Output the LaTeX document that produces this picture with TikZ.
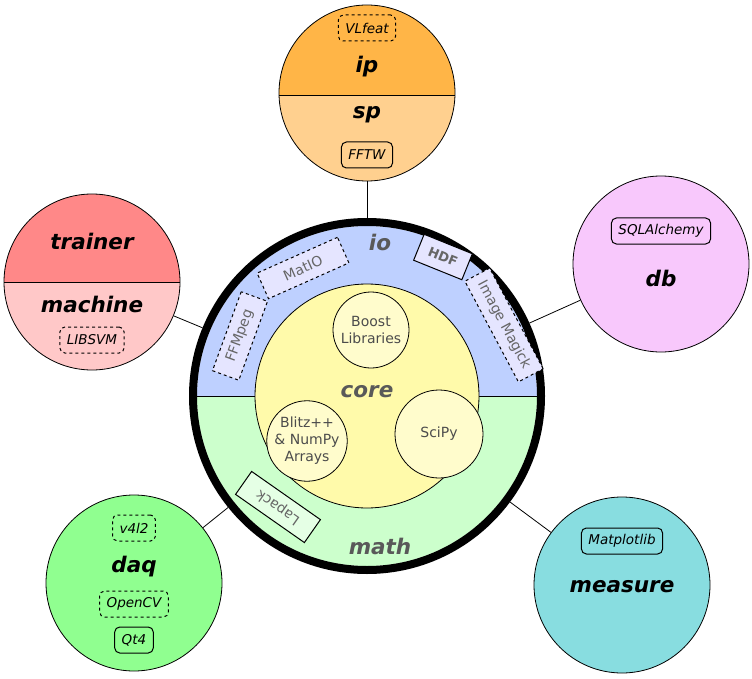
\documentclass[tikz,border=0pt]{standalone}
\usepackage{fontspec}
\setmainfont{DejaVu Sans}
\begin{document}
\begin{tikzpicture}[x=1pt,y=-1pt,
  sat/.style={circle,draw,line width=0.8pt,minimum size=176pt,inner sep=0},
  lab/.style={font=\bfseries\itshape\fontsize{21.5}{21.5}\selectfont},
  lib/.style={draw,rounded corners=5pt,line width=1pt,font=\itshape\fontsize{13.5}{13.5}\selectfont,inner xsep=7pt,minimum height=26pt},
  dlib/.style={lib,dashed},
  inb/.style={draw,line width=1pt,font=\fontsize{14}{14}\selectfont,text=black!60,minimum height=28pt,inner sep=3pt},
  sub/.style={circle,draw,fill=yellow!20,line width=0.8pt,inner sep=0,align=center,font=\fontsize{14}{17}\selectfont,text=black!70}]
\useasboundingbox (0,0) rectangle (752,679);
\coordinate (c) at (367,396);
\node[sat,draw=none] (ipsp) at (367,93) {};
\node[sat,draw=none] (tm) at (92,282) {};
\node[sat,draw=none] (db) at (661,264) {};
\node[sat,draw=none] (daq) at (134,583) {};
\node[sat,draw=none] (me) at (622,585) {};
\foreach \n in {ipsp,tm,db,daq,me} \draw[line width=0.8pt] (c) -- (\n);
% main circle
\fill[white] (c) circle (178);
\fill[fill={rgb,255:red,204;green,255;blue,204}] (197,396) arc[start angle=180,end angle=0,radius=170] -- cycle;
\fill[fill={rgb,255:red,190;green,208;blue,255}] (197,396) arc[start angle=180,end angle=360,radius=170] -- cycle;
\draw[line width=1pt] (197,396) -- (537,396);
\draw[line width=8pt] (c) circle (174);
\node[circle,draw,line width=0.8pt,fill={rgb,255:red,255;green,250;blue,170},minimum size=224pt] (core) at (c) {};
\node[lab,text=black!65] (coret) at (367,392) {core};
\node[lab,text=black!65] (iot) at (380,242) {io};
\node[lab,text=black!65] (matht) at (380,546) {math};
\node[sub,minimum size=76pt] (boost) at (371,330) {Boost\\Libraries};
\node[sub,minimum size=78pt] (blitz) at (307,441) {Blitz++\\\& NumPy\\Arrays};
\node[sub,minimum size=88pt] (scipy) at (439,434) {SciPy};
\node[inb,dashed,fill=blue!10,rotate=24,minimum width=88pt] (matio) at (303,268) {MatIO};
\node[inb,dashed,fill=blue!10,rotate=70,minimum width=84pt] (ffmpeg) at (240,336) {FFMpeg};
\node[inb,fill=blue!10,rotate=-22,font=\bfseries\fontsize{13}{13}\selectfont,minimum width=52pt] (hdf) at (443,257) {HDF};
\node[inb,dashed,fill=blue!10,rotate=-62,minimum width=114pt] (im) at (504,325) {Image Magick};
\node[inb,fill=green!10,rotate=145,minimum width=84pt] (lapack) at (278,507) {Lapack};
% ip/sp
\begin{scope}
\clip (367,93) circle (88);
\fill[fill={rgb,255:red,255;green,181;blue,71}] (270,0) rectangle (470,95);
\fill[fill={rgb,255:red,255;green,208;blue,143}] (270,95) rectangle (470,190);
\draw[line width=0.8pt] (270,95) -- (470,95);
\end{scope}
\draw[line width=0.8pt] (367,93) circle (88);
\node[lab] (ip) at (367,67) {ip};
\node[lab] (sp) at (367,115) {sp};
\node[dlib] (vl) at (367,28) {VLfeat};
\node[lib] (fftw) at (367,155) {FFTW};
% trainer/machine
\begin{scope}
\clip (92,282) circle (88);
\fill[fill={rgb,255:red,255;green,136;blue,136}] (0,190) rectangle (190,282);
\fill[fill={rgb,255:red,255;green,200;blue,200}] (0,282) rectangle (190,375);
\draw[line width=0.8pt] (0,282) -- (190,282);
\end{scope}
\draw[line width=0.8pt] (92,282) circle (88);
\node[lab] (tr) at (92,241) {trainer};
\node[lab] (ma) at (92,304) {machine};
\node[dlib] (svm) at (92,340) {LIBSVM};
% db
\draw[line width=0.8pt,fill={rgb,255:red,248;green,200;blue,252}] (661,264) circle (88);
\node[lab] (dbt) at (661,278) {db};
\node[lib] (sql) at (661,231) {SQLAlchemy};
% daq
\draw[line width=0.8pt,fill={rgb,255:red,144;green,255;blue,144}] (134,583) circle (88);
\node[lab] (daqt) at (134,567) {daq};
\node[dlib] (v4l) at (134,528) {v4l2};
\node[dlib] (cv) at (134,604) {OpenCV};
\node[lib] (qt) at (134,640) {Qt4};
% measure
\draw[line width=0.8pt,fill={rgb,255:red,136;green,221;blue,224}] (622,585) circle (88);
\node[lab] (met) at (622,587) {measure};
\node[lib] (mpl) at (622,541) {Matplotlib};
\end{tikzpicture}
\end{document}
